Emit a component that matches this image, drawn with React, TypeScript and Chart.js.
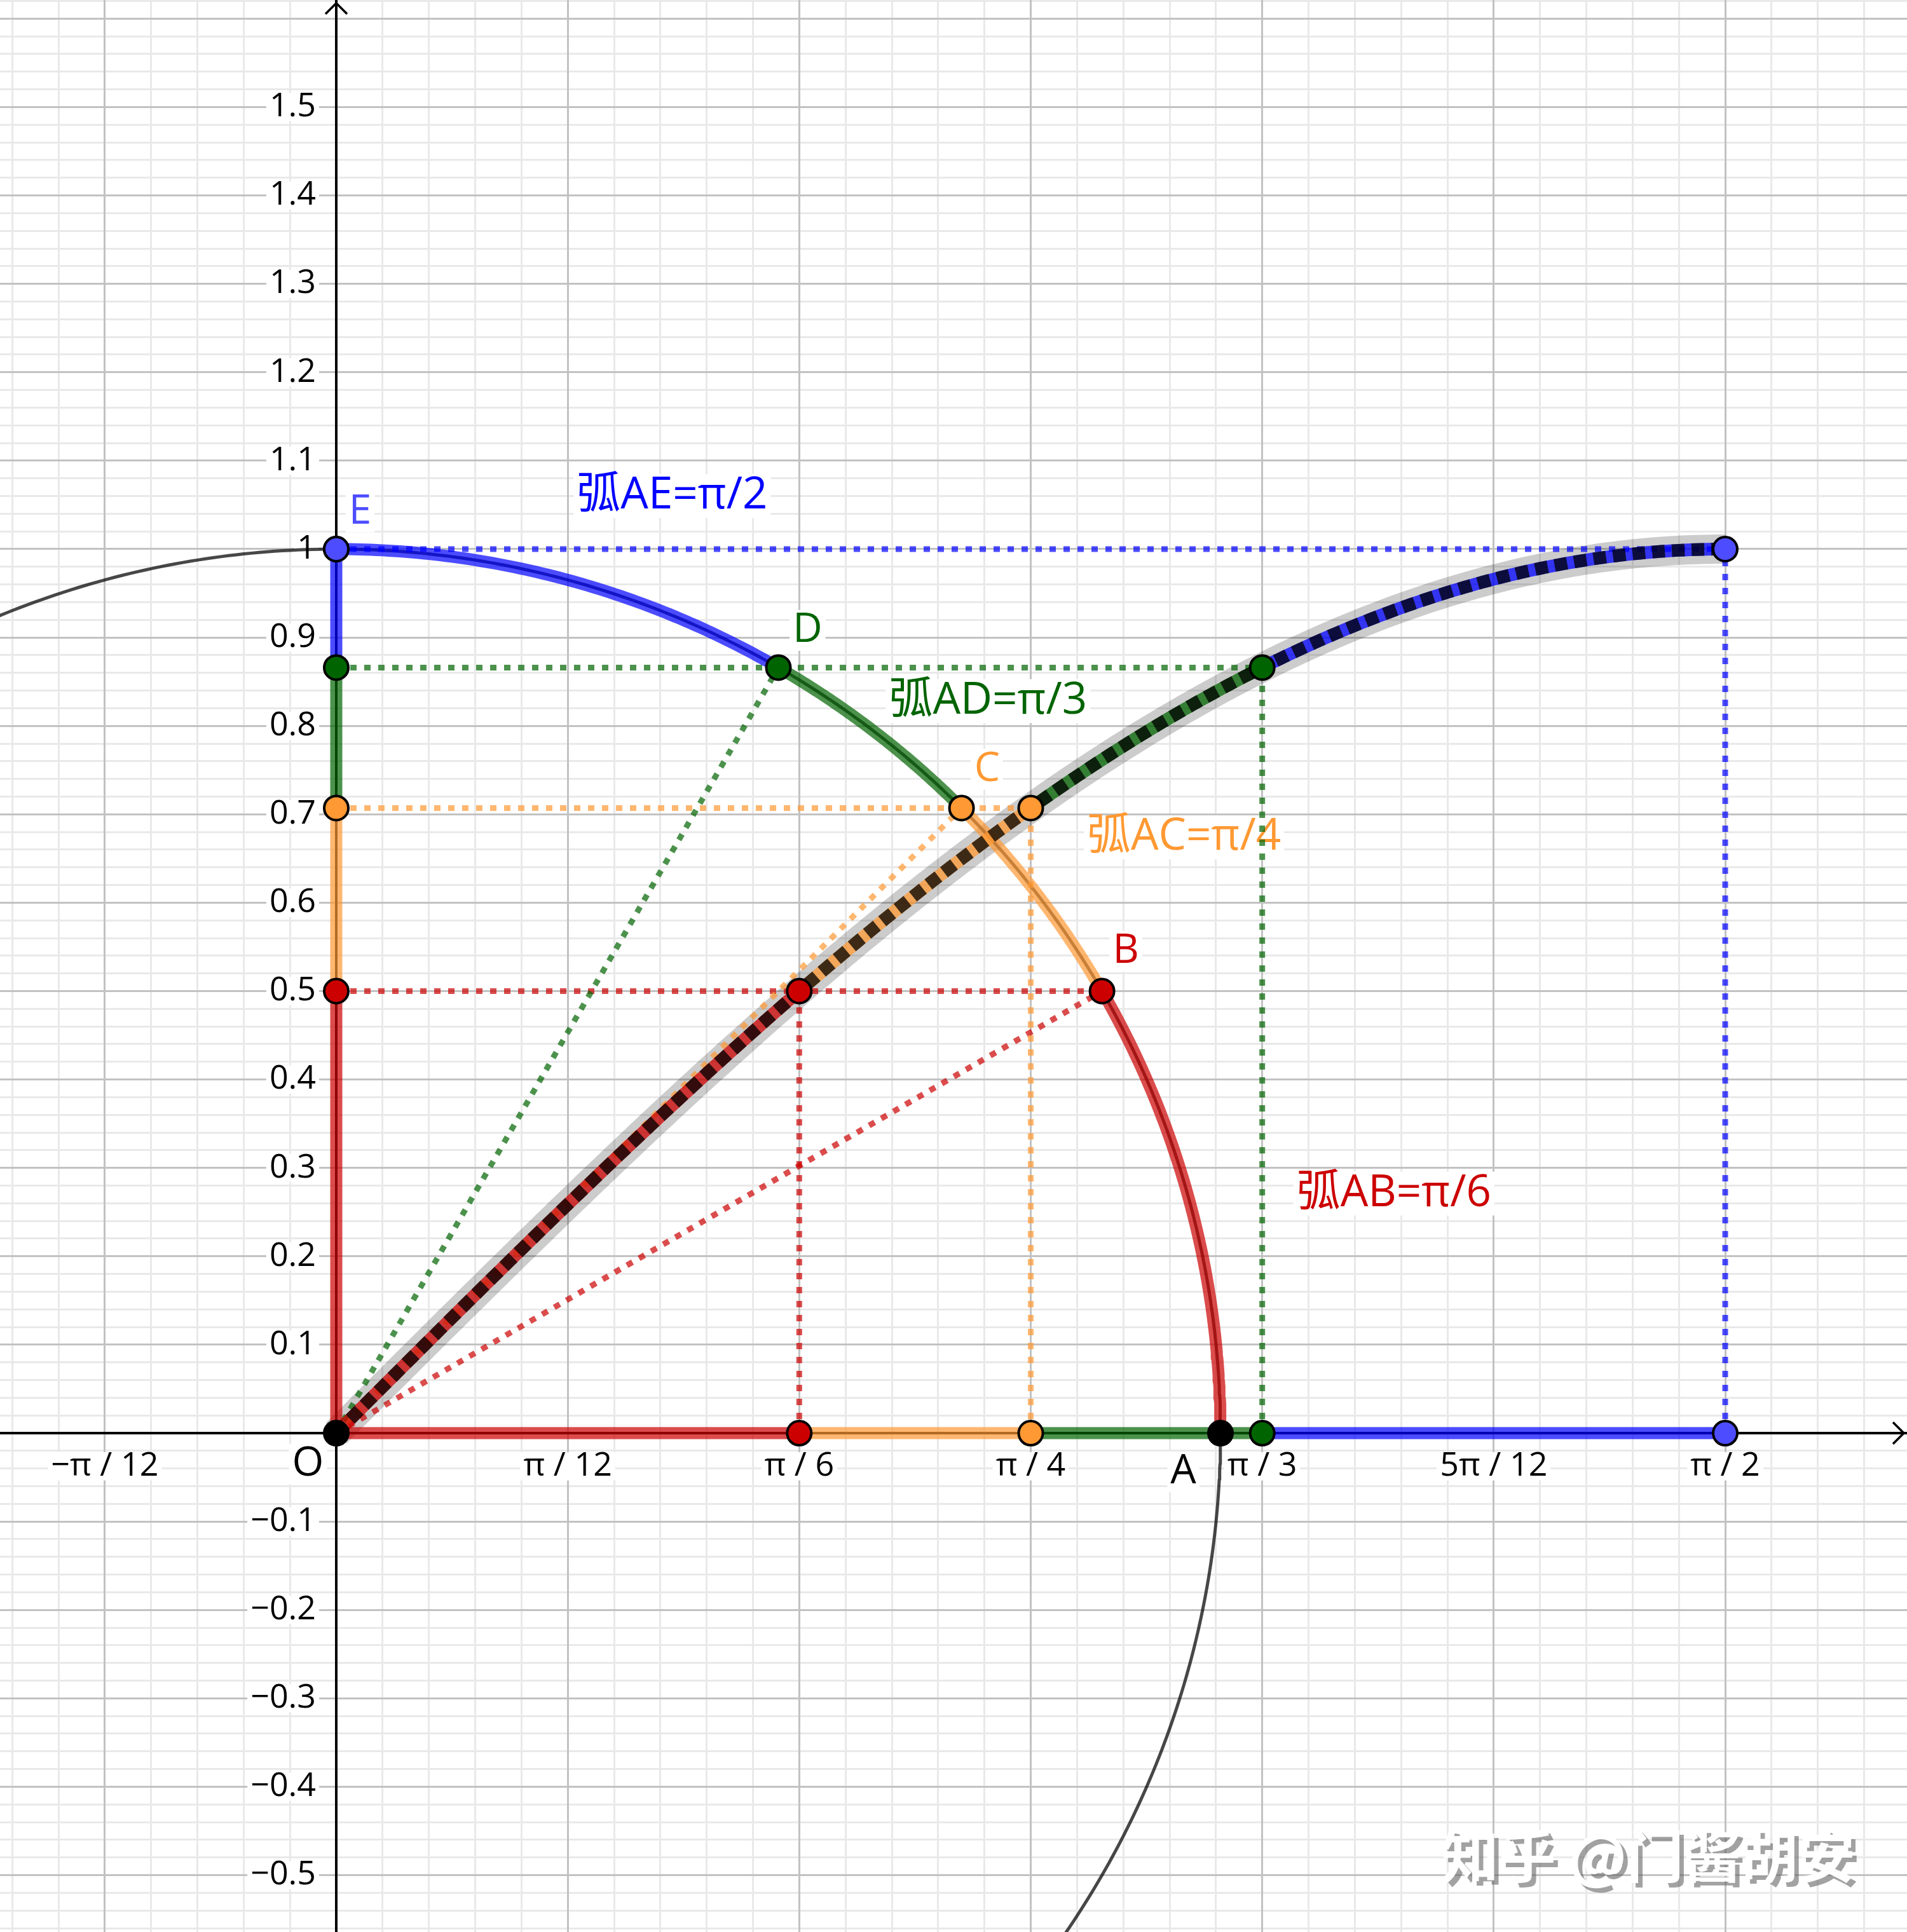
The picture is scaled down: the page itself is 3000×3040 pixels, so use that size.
import React, { useEffect, useRef } from 'react';
import { Chart, registerables } from 'chart.js';

Chart.register(...registerables);

const PI = Math.PI;

// visible window of the coordinate plane
const X_MIN = -0.3803;
const X_MAX = 1.7764;
const Y_MIN = -0.5643;
const Y_MAX = 1.6211;

// axis ticks
const X_TICK_VALUES = [-PI / 12, PI / 12, PI / 6, PI / 4, PI / 3, (5 * PI) / 12, PI / 2];
const X_TICK_LABELS = ['−π / 12', 'π / 12', 'π / 6', 'π / 4', 'π / 3', '5π / 12', 'π / 2'];
const Y_TICK_VALUES = [-0.5, -0.4, -0.3, -0.2, -0.1, 0.1, 0.2, 0.3, 0.4, 0.5, 0.6, 0.7, 0.8, 0.9, 1, 1.1, 1.2, 1.3, 1.4, 1.5, 1.6];
const Y_TICK_LABELS = ['−0.5', '−0.4', '−0.3', '−0.2', '−0.1', '0.1', '0.2', '0.3', '0.4', '0.5', '0.6', '0.7', '0.8', '0.9', '1', '1.1', '1.2', '1.3', '1.4', '1.5', ''];
const X_MINOR_STEP = PI / 60;
const Y_MINOR_STEP = 0.02;
// the y tick labels sit a little to the left of the y axis
const Y_LABEL_ANCHOR_X = -0.023;

// arcs: A (0), B (π/6), C (π/4), D (π/3), E (π/2)
const ARC_ANGLES = [0, PI / 6, PI / 4, PI / 3, PI / 2];
const COS_VALUES = [1, 0.866, 0.7071, 0.5, 0];
const SIN_VALUES = [0, 0.5, 0.7071, 0.866, 1];
const SEGMENT_RGB = ['204,0,0', '255,153,51', '0,100,0', '0,0,255'];
const POINT_FILLS = ['#cc0000', '#ff9933', '#006400', '#4d4dff'];

// point-name labels
const NAME_TEXTS = ['E', 'D', 'C', 'B', 'A', 'O'];
const NAME_X = [0.027, 0.533, 0.736, 0.893, 0.958, -0.032];
const NAME_Y = [1.042, 0.908, 0.751, 0.545, -0.044, -0.035];
const NAME_COLORS = ['#4d4dff', '#006400', '#ff9933', '#cc0000', '#000000', '#000000'];

// arc-length labels
const ARC_LABEL_TEXTS = ['弧AB=π/6', '弧AC=π/4', '弧AD=π/3', '弧AE=π/2'];
const ARC_LABEL_X = [1.086, 0.849, 0.625, 0.272];
const ARC_LABEL_Y = [0.271, 0.674, 0.828, 1.06];
const ARC_LABEL_COLORS = ['#cc0000', '#ff9933', '#006400', '#0000ff'];

const WATERMARK_TEXT = '知乎 @门酱胡安';
const WATERMARK_X = 1.25;
const WATERMARK_Y = -0.478;

const MARGIN = 100;
const W = 3000;
const H = 3040;

const LATIN = '"Open Sans", "Noto Sans", "Noto Sans CJK SC", sans-serif';
const CJK = '"Open Sans", "Noto Sans CJK SC", sans-serif';

const rgba = (rgb: string, a: number) => `rgba(${rgb},${a})`;

function unitCircle(a0: number, a1: number, n: number) {
  const pts: { x: number; y: number }[] = [];
  for (let i = 0; i <= n; i++) {
    const t = a0 + ((a1 - a0) * i) / n;
    pts.push({ x: Math.cos(t), y: Math.sin(t) });
  }
  return pts;
}

function sineCurve(a0: number, a1: number, n: number) {
  const pts: { x: number; y: number }[] = [];
  for (let i = 0; i <= n; i++) {
    const t = a0 + ((a1 - a0) * i) / n;
    pts.push({ x: t, y: Math.sin(t) });
  }
  return pts;
}

function lineDs(data: any[], color: string, width: number, dash: number[] = [], cap = 'butt') {
  return {
    data,
    showLine: true,
    borderColor: color,
    borderWidth: width,
    borderDash: dash,
    borderCapStyle: cap,
    borderJoinStyle: 'round',
    pointRadius: 0,
    pointHoverRadius: 0,
    fill: false,
    tension: 0,
  };
}

function pointDs(data: any[], fill: string) {
  return {
    data,
    showLine: false,
    pointRadius: 19,
    pointHoverRadius: 19,
    pointBorderWidth: 4,
    pointBorderColor: '#000',
    pointBackgroundColor: fill,
  };
}

function buildDatasets() {
  const bottomToTop: any[] = [];
  // unit circle
  bottomToTop.push(lineDs(unitCircle(0, 2 * PI, 720), 'rgba(0,0,0,0.72)', 5));
  // grey halo under the sine curve
  bottomToTop.push(lineDs(sineCurve(0, PI / 2, 200), 'rgba(0,0,0,0.2)', 46));
  // dotted construction lines
  for (let i = 0; i < 4; i++) {
    const c = rgba(SEGMENT_RGB[i], 0.7);
    const a = ARC_ANGLES[i + 1];
    const s = SIN_VALUES[i + 1];
    const co = COS_VALUES[i + 1];
    const dash = [10, 12];
    if (i < 3) bottomToTop.push(lineDs([{ x: 0, y: 0 }, { x: co, y: s }], c, 9, dash));
    bottomToTop.push(lineDs([{ x: 0, y: s }, { x: Math.max(co, a), y: s }], c, 9, dash));
    bottomToTop.push(lineDs([{ x: a, y: 0 }, { x: a, y: s }], c, 9, dash));
  }
  // coloured pieces on the axes
  for (let i = 0; i < 4; i++) {
    const c = rgba(SEGMENT_RGB[i], 0.7);
    bottomToTop.push(lineDs([{ x: ARC_ANGLES[i], y: 0 }, { x: ARC_ANGLES[i + 1], y: 0 }], c, 19));
    bottomToTop.push(lineDs([{ x: 0, y: SIN_VALUES[i] }, { x: 0, y: SIN_VALUES[i + 1] }], c, 19));
  }
  // coloured arcs on the circle
  for (let i = 0; i < 4; i++) {
    bottomToTop.push(lineDs(unitCircle(ARC_ANGLES[i], ARC_ANGLES[i + 1], 80), rgba(SEGMENT_RGB[i], 0.7), 19));
  }
  // coloured pieces of the sine curve
  for (let i = 0; i < 4; i++) {
    bottomToTop.push(lineDs(sineCurve(ARC_ANGLES[i], ARC_ANGLES[i + 1], 80), rgba(SEGMENT_RGB[i], 0.75), 20));
  }
  // black dashes along the sine curve
  bottomToTop.push(lineDs(sineCurve(0, PI / 2, 240), 'rgba(0,0,0,0.75)', 20, [20, 11]));
  // points
  for (let i = 0; i < 4; i++) {
    const a = ARC_ANGLES[i + 1];
    const s = SIN_VALUES[i + 1];
    const co = COS_VALUES[i + 1];
    bottomToTop.push(pointDs([{ x: co, y: s }, { x: a, y: s }, { x: 0, y: s }, { x: a, y: 0 }], POINT_FILLS[i]));
  }
  bottomToTop.push(pointDs([{ x: 0, y: 0 }, { x: COS_VALUES[0], y: SIN_VALUES[0] }], '#000000'));
  return bottomToTop.reverse();
}

function drawBoxedText(ctx: CanvasRenderingContext2D, text: string, px: number, py: number, color: string, size: number, align: CanvasTextAlign, family: string) {
  ctx.font = `${size}px ${family}`;
  ctx.textAlign = align;
  ctx.textBaseline = 'middle';
  const w = ctx.measureText(text).width;
  const left = align === 'left' ? px : px - w / 2;
  ctx.fillStyle = '#ffffff';
  ctx.fillRect(left - 5, py - size * 0.5, w + 10, size);
  ctx.fillStyle = color;
  ctx.fillText(text, px, py);
}

const decorPlugin = {
  id: 'decor',
  beforeDatasetsDraw(chart: any) {
    const { ctx, chartArea, scales } = chart;
    const sx = scales.x;
    const sy = scales.y;
    const x0 = sx.getPixelForValue(0);
    const y0 = sy.getPixelForValue(0);
    ctx.save();
    // axis arrow heads
    ctx.strokeStyle = '#000';
    ctx.lineWidth = 3.5;
    ctx.lineJoin = 'miter';
    const ty = chartArea.top + 5;
    ctx.beginPath();
    ctx.moveTo(x0 - 17, ty + 17);
    ctx.lineTo(x0, ty);
    ctx.lineTo(x0 + 17, ty + 17);
    ctx.stroke();
    const tx = chartArea.right - 5;
    ctx.beginPath();
    ctx.moveTo(tx - 17, y0 - 17);
    ctx.lineTo(tx, y0);
    ctx.lineTo(tx - 17, y0 + 17);
    ctx.stroke();
    // labels
    for (let i = 0; i < NAME_TEXTS.length; i++) {
      drawBoxedText(ctx, NAME_TEXTS[i], sx.getPixelForValue(NAME_X[i]), sy.getPixelForValue(NAME_Y[i]), NAME_COLORS[i], 64, 'center', LATIN);
    }
    for (let i = 0; i < ARC_LABEL_TEXTS.length; i++) {
      drawBoxedText(ctx, ARC_LABEL_TEXTS[i], sx.getPixelForValue(ARC_LABEL_X[i]), sy.getPixelForValue(ARC_LABEL_Y[i]), ARC_LABEL_COLORS[i], 69, 'left', CJK);
    }
    ctx.restore();
  },
  afterDraw(chart: any) {
    const { ctx, scales } = chart;
    const px = scales.x.getPixelForValue(WATERMARK_X);
    const py = scales.y.getPixelForValue(WATERMARK_Y);
    ctx.save();
    ctx.font = `bold 90px "Noto Sans CJK SC", sans-serif`;
    ctx.textAlign = 'left';
    ctx.textBaseline = 'middle';
    ctx.fillStyle = 'rgba(100,100,100,0.6)';
    ctx.fillText(WATERMARK_TEXT, px + 7, py + 7);
    ctx.fillStyle = '#ffffff';
    ctx.fillText(WATERMARK_TEXT, px, py);
    ctx.restore();
  },
};

function minorTicks(min: number, max: number, step: number) {
  const out: { value: number }[] = [];
  const k0 = Math.ceil(min / step);
  const k1 = Math.floor(max / step);
  for (let k = k0; k <= k1; k++) out.push({ value: k * step });
  return out;
}

export default function App() {
  const ref = useRef<HTMLCanvasElement>(null);
  useEffect(() => {
    const tickFont = { family: LATIN, size: 52 };
    const chart = new Chart(ref.current as HTMLCanvasElement, {
      type: 'scatter',
      data: { datasets: buildDatasets() as any },
      options: {
        animation: false,
        responsive: false,
        devicePixelRatio: 1,
        events: [],
        layout: { padding: MARGIN, autoPadding: false } as any,
        plugins: { legend: { display: false }, tooltip: { enabled: false } },
        scales: {
          xMinor: {
            type: 'linear', axis: 'x', position: 'bottom', min: X_MIN, max: X_MAX, bounds: 'data',
            grid: { color: '#e9e9e9', lineWidth: 3, drawTicks: false, z: -2 },
            border: { display: false },
            ticks: { display: false },
            afterBuildTicks: (s: any) => { s.ticks = minorTicks(X_MIN, X_MAX, X_MINOR_STEP); },
          },
          yMinor: {
            type: 'linear', axis: 'y', position: 'left', min: Y_MIN, max: Y_MAX, bounds: 'data',
            grid: { color: '#e9e9e9', lineWidth: 3, drawTicks: false, z: -2 },
            border: { display: false },
            ticks: { display: false },
            afterBuildTicks: (s: any) => { s.ticks = minorTicks(Y_MIN, Y_MAX, Y_MINOR_STEP); },
          },
          x: {
            type: 'linear', axis: 'x', position: { y: 0 }, min: X_MIN, max: X_MAX, bounds: 'data',
            grid: { color: '#c2c2c2', lineWidth: 3, drawTicks: false, z: -1 },
            border: { display: true, color: '#000', width: 4 },
            afterBuildTicks: (s: any) => { s.ticks = X_TICK_VALUES.map((v) => ({ value: v })); },
            ticks: {
              autoSkip: false, maxRotation: 0, minRotation: 0, padding: 21, color: '#000', font: tickFont,
              callback: (_v: any, i: number) => X_TICK_LABELS[i],
              showLabelBackdrop: true, backdropColor: '#ffffff',
              backdropPadding: { top: -9, bottom: -9, left: 5, right: 5 },
            },
          },
          y: {
            type: 'linear', axis: 'y', position: { x: Y_LABEL_ANCHOR_X }, min: Y_MIN, max: Y_MAX, bounds: 'data',
            grid: { color: '#c2c2c2', lineWidth: 3, drawTicks: false, z: -1 },
            border: { display: false },
            afterBuildTicks: (s: any) => { s.ticks = Y_TICK_VALUES.map((v) => ({ value: v })); },
            ticks: {
              autoSkip: false, padding: 0, color: '#000', font: tickFont,
              callback: (_v: any, i: number) => Y_TICK_LABELS[i],
              showLabelBackdrop: (ctx: any) => !!(ctx.tick && ctx.tick.label),
              backdropColor: '#ffffff',
              backdropPadding: { top: -9, bottom: -9, left: 5, right: 5 },
            },
          },
          yAxisLine: {
            type: 'linear', axis: 'y', position: { x: 0 }, min: Y_MIN, max: Y_MAX, bounds: 'data',
            grid: { display: false, drawTicks: false },
            border: { display: true, color: '#000', width: 4 },
            ticks: { display: false },
          },
        } as any,
      },
      plugins: [decorPlugin],
    });
    return () => chart.destroy();
  }, []);
  return (
    <div style={{ position: 'fixed', left: 0, top: 0, width: W, height: H, overflow: 'hidden', background: '#ffffff' }}>
      <canvas
        ref={ref}
        width={W + 2 * MARGIN}
        height={H + 2 * MARGIN}
        style={{ position: 'absolute', left: -MARGIN, top: -MARGIN, width: W + 2 * MARGIN, height: H + 2 * MARGIN }}
      />
    </div>
  );
}
